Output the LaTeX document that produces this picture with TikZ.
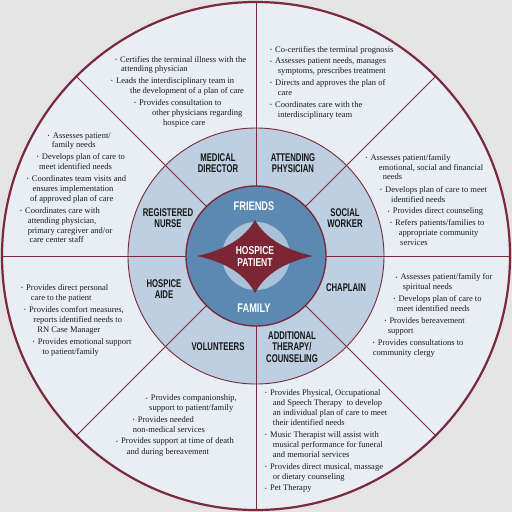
\documentclass[tikz,border=0pt]{standalone}
\usepackage{fontspec}
\setmainfont{Liberation Serif}
\newfontfamily\lblfont[FakeStretch=0.69,BoldFont={Liberation Sans Bold}]{Liberation Sans}
\newfontfamily\ctrfont[FakeStretch=0.74,BoldFont={Liberation Sans Bold}]{Liberation Sans}
\usetikzlibrary{patterns}
\definecolor{bgc}{HTML}{E4E4E4}
\definecolor{outerc}{HTML}{E8EEF4}
\definecolor{midc}{HTML}{BDCFE1}
\definecolor{innerc}{HTML}{5B89B2}
\definecolor{lightc}{HTML}{A9C1D9}
\definecolor{starc}{HTML}{7A2434}
\definecolor{linec}{HTML}{7A2A3C}
\definecolor{txtc}{HTML}{1C1C1C}
\definecolor{rolec}{HTML}{161616}
\newcommand\bul{\llap{\raisebox{0.6pt}{\scalebox{0.6}{\textbullet}}\hspace{3.2pt}}}
\begin{document}
\begin{tikzpicture}[x=1pt,y=-1pt,
  item/.style={anchor=west, inner sep=0pt, font=\fontsize{8.5}{10}\selectfont, text=txtc, text height=6pt, text depth=2pt},
  role/.style={align=center, inner sep=0pt, font=\lblfont\bfseries\fontsize{11.2}{11.5}\selectfont, text=rolec},
  ctr/.style={align=center, inner sep=0pt, font=\ctrfont\bfseries\fontsize{12.5}{13}\selectfont, text=white},
  spoke/.style={draw=linec, line width=0.9pt},
  ringline/.style={draw=linec, line width=0.9pt}
]
\fill[bgc] (0,0) rectangle (512,512);
\useasboundingbox (0,0) rectangle (512,512);
\coordinate (c) at (256,256);
\fill[outerc] (c) circle (254);
\fill[midc] (c) circle (128);
\foreach \a in {0,45,...,315} \draw[spoke] (c) ++(\a:70pt) -- ++(\a:184pt);
\draw[ringline] (c) circle (128);
\fill[innerc] (c) circle (70);
\draw[draw=linec, line width=1.4pt] (c) circle (70);
\fill[lightc] (c) circle (34);
\path[fill=starc] (197,256) .. controls (225,250) and (245,238) .. (255,220)
  .. controls (265,238) and (285,250) .. (313,256)
  .. controls (285,262) and (265,274) .. (255,293)
  .. controls (245,274) and (225,262) .. (197,256) -- cycle;
\path[pattern=dots, pattern color=starc!70!white, opacity=0.35] (197,256) .. controls (225,250) and (245,238) .. (255,220)
  .. controls (265,238) and (285,250) .. (313,256)
  .. controls (285,262) and (265,274) .. (255,293)
  .. controls (245,274) and (225,262) .. (197,256) -- cycle;
\draw[draw=linec, line width=2.2pt] (c) circle (254);

% centre texts
\node[ctr] (friends) at (254,206) {FRIENDS};
\node[ctr] (family) at (254,308) {FAMILY};
\node[ctr, font=\ctrfont\bfseries\fontsize{11.5}{12}\selectfont] (patient) at (255,256) {HOSPICE\\PATIENT};

% role labels
\node[role] (md) at (218,163) {MEDICAL\\DIRECTOR};
\node[role] (ap) at (293,163) {ATTENDING\\PHYSICIAN};
\node[role] (sw) at (345,218) {SOCIAL\\WORKER};
\node[role] (ch) at (346,288) {CHAPLAIN};
\node[role] (at) at (292,347) {ADDITIONAL\\THERAPY/\\COUNSELING};
\node[role] (vo) at (218,347) {VOLUNTEERS};
\node[role] (ha) at (164,289) {HOSPICE\\AIDE};
\node[role] (rn) at (168,218) {REGISTERED\\NURSE};

% medical director
\node[item] (a1) at (120,60) {\bul Certifies the terminal illness with the};
\node[item] (a2) at (121,69.5) {attending physician};
\node[item] (a3) at (116,81) {\bul Leads the interdisciplinary team in};
\node[item] (a4) at (130,91) {the development of a plan of care};
\node[item] (a5) at (139,103) {\bul Provides consultation to};
\node[item] (a6) at (152,113) {other physicians regarding};
\node[item] (a7) at (163,123) {hospice care};

% attending physician
\node[item] (b1) at (275,50) {\bul Co-certifies the terminal prognosis};
\node[item] (b2) at (275,61.7) {\bul Assesses patient needs, manages};
\node[item] (b3) at (277.7,71.7) {symptoms, prescribes treatment};
\node[item] (b4) at (275,83.3) {\bul Directs and approves the plan of};
\node[item] (b5) at (277.7,93.3) {care};
\node[item] (b6) at (275,105.3) {\bul Coordinates care with the};
\node[item] (b7) at (277.7,115.3) {interdisciplinary team};

% social worker
\node[item] (s1) at (370.3,158.3) {\bul Assesses patient/family};
\node[item] (s2) at (378.7,168.3) {emotional, social and financial};
\node[item] (s3) at (382.7,177.7) {needs};
\node[item] (s4) at (385,190) {\bul Develops plan of care to meet};
\node[item] (s5) at (391,200) {identified needs};
\node[item] (s6) at (392.7,211.7) {\bul Provides direct counseling};
\node[item] (s7) at (395,223.3) {\bul Refers patients/families to};
\node[item] (s8) at (398.7,233.3) {appropriate community};
\node[item] (s9) at (400,243.3) {services};

% registered nurse
\node[item] (n1) at (52.7,136) {\bul Assesses patient/};
\node[item] (n2) at (51.7,145.7) {family needs};
\node[item] (n3) at (41.7,157.3) {\bul Develops plan of care to};
\node[item] (n4) at (39,167.3) {meet identified needs};
\node[item] (n5) at (31.7,179.3) {\bul Coordinates team visits and};
\node[item] (n6) at (32.3,189.3) {ensures implementation};
\node[item] (n7) at (30,199.3) {of approved plan of care};
\node[item] (n8) at (25,211) {\bul Coordinates care with};
\node[item] (n9) at (27.7,221) {attending physician,};
\node[item] (n10) at (27.7,231) {primary caregiver and/or};
\node[item] (n11) at (29.3,240.7) {care center staff};

% hospice aide
\node[item] (h1) at (26,288.3) {\bul Provides direct personal};
\node[item] (h2) at (30.7,298.3) {care to the patient};
\node[item] (h3) at (29,310) {\bul Provides comfort measures,};
\node[item] (h4) at (33.3,320) {reports identified needs to};
\node[item] (h5) at (37.3,330) {RN Case Manager};
\node[item] (h6) at (37.7,342) {\bul Provides emotional support};
\node[item] (h7) at (42.3,352) {to patient/family};

% volunteers
\node[item] (v1) at (150.7,398.7) {\bul Provides companionship,};
\node[item] (v2) at (149,408.7) {support to patient/family};
\node[item] (v3) at (137.7,420) {\bul Provides needed};
\node[item] (v4) at (132.7,430.3) {non-medical services};
\node[item] (v5) at (121,441.7) {\bul Provides support at time of death};
\node[item] (v6) at (126.7,452) {and during bereavement};

% chaplain
\node[item] (c1) at (400.3,277.7) {\bul Assesses patient/family for};
\node[item] (c2) at (402.7,287.7) {spiritual needs};
\node[item] (c3) at (398.3,299.3) {\bul Develops plan of care to};
\node[item] (c4) at (396.7,309.3) {meet identified needs};
\node[item] (c5) at (389.3,321) {\bul Provides bereavement};
\node[item] (c6) at (387.7,331) {support};
\node[item] (c7) at (377.7,343.3) {\bul Provides consultations to};
\node[item] (c8) at (372.7,353.3) {community clergy};

% additional therapy
\node[item] (t1) at (270,393.3) {\bul Provides Physical, Occupational};
\node[item] (t2) at (272.7,403.3) {and Speech Therapy\ \ to develop};
\node[item] (t3) at (272.7,413.3) {an individual plan of care to meet};
\node[item] (t4) at (272.7,423.3) {their identified needs};
\node[item] (t5) at (270,435.3) {\bul Music Therapist will assist with};
\node[item] (t6) at (272.7,445.3) {musical performance for funeral};
\node[item] (t7) at (272.7,455.3) {and memorial services};
\node[item] (t8) at (270,467) {\bul Provides direct musical, massage};
\node[item] (t9) at (272.7,477) {or dietary counseling};
\node[item] (t10) at (270,488.7) {\bul Pet Therapy};
\end{tikzpicture}
\end{document}
